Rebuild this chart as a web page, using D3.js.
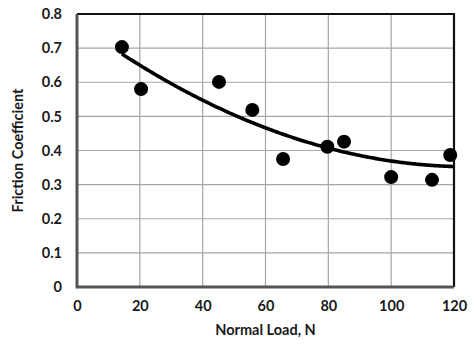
<!DOCTYPE html>
<html><head><meta charset="utf-8">
<script src="https://cdn.jsdelivr.net/npm/d3@7"></script>
<style>body{margin:0;background:#fff}svg{display:block}text{font-family:Lato,"Open Sans",sans-serif;font-weight:bold;fill:#1a1a1a}</style>
</head><body>
<script>
const loadN = [14.3, 20.4, 45.2, 55.8, 65.6, 79.7, 85.0, 100, 113, 118.8];
const friction = [0.703, 0.580, 0.601, 0.519, 0.375, 0.411, 0.426, 0.322, 0.314, 0.387];
// polynomial (order 2) trendline coefficients: y = c0 + c1*x + c2*x^2
const trendCoef = [0.7742, -0.00675, 0.000027];
const trendRange = [14.3, 120];
const xTicks = [0, 20, 40, 60, 80, 100, 120];
const yTicks = [0, 0.1, 0.2, 0.3, 0.4, 0.5, 0.6, 0.7, 0.8];

const W = 474, H = 358;
const m = {l: 77, r: 20, t: 14, b: 71};
const FS = "14.5px";
const svg = d3.select("body").append("svg").attr("width", W).attr("height", H);
const x = d3.scaleLinear().domain([0, 120]).range([m.l, W - m.r]);
const y = d3.scaleLinear().domain([0, 0.8]).range([H - m.b, m.t]);

// gridlines
svg.append("g").selectAll("line.v").data(xTicks.slice(1, -1)).join("line")
  .attr("x1", d => x(d)).attr("x2", d => x(d)).attr("y1", y(0)).attr("y2", y(0.8))
  .attr("stroke", "#a6a6a6").attr("stroke-width", 1.2);
svg.append("g").selectAll("line.h").data(yTicks.slice(1, -1)).join("line")
  .attr("x1", x(0)).attr("x2", x(120)).attr("y1", d => y(d)).attr("y2", d => y(d))
  .attr("stroke", "#a6a6a6").attr("stroke-width", 1.2);

// top/right border
svg.append("path").attr("d", `M${x(0)},${y(0.8)}H${x(120)}V${y(0)}`)
  .attr("fill", "none").attr("stroke", "#111").attr("stroke-width", 2.2);
// left/bottom axes
svg.append("path").attr("d", `M${x(0)},${y(0.8)}V${y(0)}H${x(120)}`)
  .attr("fill", "none").attr("stroke", "#555").attr("stroke-width", 3);

// axes labels via d3 axes
const xa = svg.append("g").attr("transform", `translate(0,${y(0)})`)
  .call(d3.axisBottom(x).tickValues(xTicks).tickSize(0).tickPadding(14).tickFormat(d3.format("d")));
const ya = svg.append("g").attr("transform", `translate(${x(0)},0)`)
  .call(d3.axisLeft(y).tickValues(yTicks).tickSize(0).tickPadding(15).tickFormat(d => d === 0 ? "0" : d3.format(".1f")(d)));
[xa, ya].forEach(g => {
  g.select(".domain").remove();
  g.selectAll("text").style("font-size", FS).style("font-family", "Lato, 'Open Sans', sans-serif")
    .style("font-weight", "bold").attr("fill", "#1a1a1a");
});

// trendline
const tl = d3.range(trendRange[0], trendRange[1] + 0.01, 0.5).map(v => [v, trendCoef[0] + trendCoef[1] * v + trendCoef[2] * v * v]);
svg.append("path").datum(tl)
  .attr("d", d3.line().x(d => x(d[0])).y(d => y(d[1])))
  .attr("fill", "none").attr("stroke", "#000").attr("stroke-width", 3.6);

// points
svg.append("g").selectAll("circle").data(loadN).join("circle")
  .attr("cx", d => x(d)).attr("cy", (d, i) => y(friction[i])).attr("r", 7).attr("fill", "#000");

// titles
svg.append("text").attr("x", (x(0) + x(120)) / 2).attr("y", 335).attr("text-anchor", "middle")
  .style("font-size", FS).text("Normal Load, N");
svg.append("text").attr("transform", `translate(23,${(y(0) + y(0.8)) / 2}) rotate(-90)`)
  .attr("text-anchor", "middle").style("font-size", FS).text("Friction Coefficient");
</script>
</body></html>
